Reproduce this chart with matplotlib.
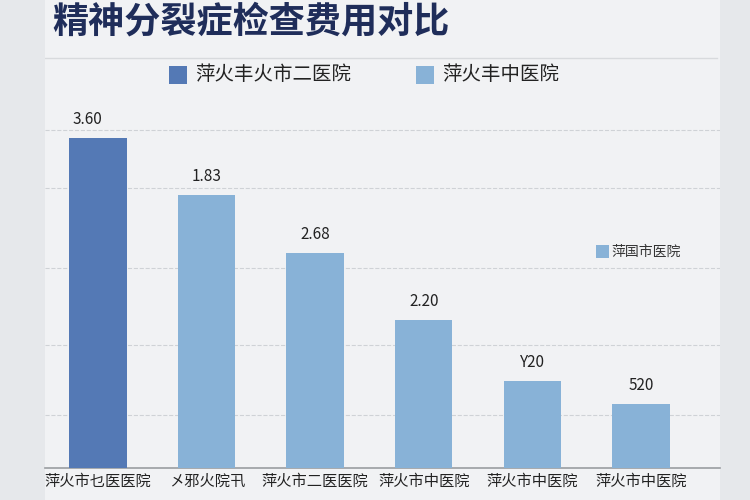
import matplotlib.pyplot as plt
from matplotlib.patches import Rectangle

plt.rcParams['font.family'] = ['Noto Sans CJK SC', 'DejaVu Sans']

hospitals = ['萍火市乜医医院', '㐅邪火院卂', '萍火市二医医院', '萍火市中医院', '萍火市中医院', '萍火市中医院']
heights = [330, 273, 215, 148, 87, 64]
value_labels = ['3.60', '1.83', '2.68', '2.20', 'Y20', '520']
grid_levels = [53, 123, 200, 280, 338]
legend_names = ['萍火丰火市二医院', '萍火丰中医院']

dark_blue = '#5479b5'
light_blue = '#88b2d7'
colors = [dark_blue] + [light_blue] * 5

fig = plt.figure(figsize=(7.5, 5), dpi=100)
fig.patch.set_facecolor('#e6e8eb')

# lighter card behind the chart
bg = fig.add_axes([0.06, 0, 0.9, 1], zorder=-1)
bg.set_facecolor('#f1f2f4')
bg.set_xticks([])
bg.set_yticks([])
for s in bg.spines.values():
    s.set_visible(False)
bg.axhline(0.885, xmin=0, xmax=0.995, color='#d8dadd', linewidth=1)

ax = fig.add_axes([0.06, 0.064, 0.9, 0.716])
ax.set_facecolor('none')
x = list(range(len(heights)))
ax.bar(x, heights, width=0.53, color=colors, zorder=3)
for xi, h, lab in zip(x, heights, value_labels):
    ax.text(xi - 0.1 if xi == 0 else xi, h + 10, lab, ha='center', va='bottom',
            fontsize=11, color='#222222')

ax.set_xlim(-0.49, 5.73)
ax.set_ylim(0, 358)
ax.set_yticks(grid_levels)
ax.set_yticklabels([])
ax.tick_params(length=0)
ax.grid(axis='y', linestyle='--', color='#cfd2d6', linewidth=0.8, zorder=0)
ax.set_xticks(x)
ax.set_xticklabels(hospitals, fontsize=11, color='#222222')
for s in ['top', 'right', 'left']:
    ax.spines[s].set_visible(False)
ax.spines['bottom'].set_color('#9a9da1')
ax.spines['bottom'].set_linewidth(1.2)

fig.text(0.07, 0.955, '精神分裂症检查费用对比', fontsize=26, fontweight='bold',
         color='#1f2d5a', va='center')

# legend at top
for lx, name, c in [(0.225, legend_names[0], dark_blue), (0.555, legend_names[1], light_blue)]:
    fig.patches.append(Rectangle((lx, 0.832), 0.024, 0.036, transform=fig.transFigure,
                                 facecolor=c, edgecolor='none'))
    fig.text(lx + 0.035, 0.85, name, fontsize=14, color='#222222', va='center')

# stray legend entry inside the plot
fig.patches.append(Rectangle((0.795, 0.485), 0.017, 0.026, transform=fig.transFigure,
                             facecolor=light_blue, edgecolor='none'))
fig.text(0.815, 0.497, '萍国市医院', fontsize=10, color='#333333', va='center')

fig.savefig('out.png', dpi=100, facecolor=fig.get_facecolor())
